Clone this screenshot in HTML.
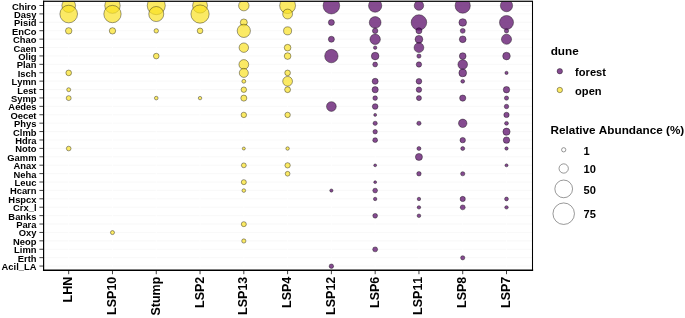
<!DOCTYPE html>
<html lang="en">
<head>
<meta charset="utf-8">
<title>Relative abundance bubble plot</title>
<style>
html,body{margin:0;padding:0;background:#fff;}
body{width:685px;height:318px;overflow:hidden;}
svg{display:block;}
svg text{font-family:"Liberation Sans",Arial,Helvetica,sans-serif;font-weight:bold;fill:#000;font-kerning:none;}
.yl{font-size:9.4px;text-anchor:end;}
.xl{font-size:12.5px;text-anchor:end;}
.lt{font-size:11.74px;}
.ll{font-size:11.1px;}
.y{fill:#FAE123;fill-opacity:.7;stroke:#000;stroke-opacity:.7;stroke-width:0.55;}
.p{fill:#5c0f6b;fill-opacity:.75;stroke:#000;stroke-opacity:.7;stroke-width:0.55;}
.k{fill:#fff;stroke:#444;stroke-width:.55;}
</style>
</head>
<body>
<svg width="685" height="318" viewBox="0 0 685 318">
<rect width="685" height="318" fill="#fff"/>
<defs><clipPath id="pc"><rect x="43.6" y="1.5" width="488.9" height="268.5"/></clipPath></defs>
<rect x="43" y="0" width="490" height="1" fill="#b4b4b4"/>
<g stroke="#f3f3f3" stroke-width=".55">
<line x1="43.6" x2="532.5" y1="5.50" y2="5.50"/>
<line x1="43.6" x2="532.5" y1="13.90" y2="13.90"/>
<line x1="43.6" x2="532.5" y1="22.31" y2="22.31"/>
<line x1="43.6" x2="532.5" y1="30.71" y2="30.71"/>
<line x1="43.6" x2="532.5" y1="39.12" y2="39.12"/>
<line x1="43.6" x2="532.5" y1="47.52" y2="47.52"/>
<line x1="43.6" x2="532.5" y1="55.93" y2="55.93"/>
<line x1="43.6" x2="532.5" y1="64.33" y2="64.33"/>
<line x1="43.6" x2="532.5" y1="72.74" y2="72.74"/>
<line x1="43.6" x2="532.5" y1="81.14" y2="81.14"/>
<line x1="43.6" x2="532.5" y1="89.55" y2="89.55"/>
<line x1="43.6" x2="532.5" y1="97.95" y2="97.95"/>
<line x1="43.6" x2="532.5" y1="106.36" y2="106.36"/>
<line x1="43.6" x2="532.5" y1="114.76" y2="114.76"/>
<line x1="43.6" x2="532.5" y1="123.17" y2="123.17"/>
<line x1="43.6" x2="532.5" y1="131.57" y2="131.57"/>
<line x1="43.6" x2="532.5" y1="139.98" y2="139.98"/>
<line x1="43.6" x2="532.5" y1="148.38" y2="148.38"/>
<line x1="43.6" x2="532.5" y1="156.79" y2="156.79"/>
<line x1="43.6" x2="532.5" y1="165.19" y2="165.19"/>
<line x1="43.6" x2="532.5" y1="173.60" y2="173.60"/>
<line x1="43.6" x2="532.5" y1="182.00" y2="182.00"/>
<line x1="43.6" x2="532.5" y1="190.41" y2="190.41"/>
<line x1="43.6" x2="532.5" y1="198.81" y2="198.81"/>
<line x1="43.6" x2="532.5" y1="207.22" y2="207.22"/>
<line x1="43.6" x2="532.5" y1="215.62" y2="215.62"/>
<line x1="43.6" x2="532.5" y1="224.03" y2="224.03"/>
<line x1="43.6" x2="532.5" y1="232.43" y2="232.43"/>
<line x1="43.6" x2="532.5" y1="240.84" y2="240.84"/>
<line x1="43.6" x2="532.5" y1="249.24" y2="249.24"/>
<line x1="43.6" x2="532.5" y1="257.65" y2="257.65"/>
<line x1="43.6" x2="532.5" y1="266.06" y2="266.06"/>
</g>
<g stroke="#fff" stroke-width=".8">
<line x1="68.70" x2="68.70" y1="1.5" y2="270.0"/>
<line x1="112.48" x2="112.48" y1="1.5" y2="270.0"/>
<line x1="156.26" x2="156.26" y1="1.5" y2="270.0"/>
<line x1="200.04" x2="200.04" y1="1.5" y2="270.0"/>
<line x1="243.82" x2="243.82" y1="1.5" y2="270.0"/>
<line x1="287.60" x2="287.60" y1="1.5" y2="270.0"/>
<line x1="331.38" x2="331.38" y1="1.5" y2="270.0"/>
<line x1="375.16" x2="375.16" y1="1.5" y2="270.0"/>
<line x1="418.94" x2="418.94" y1="1.5" y2="270.0"/>
<line x1="462.72" x2="462.72" y1="1.5" y2="270.0"/>
<line x1="506.50" x2="506.50" y1="1.5" y2="270.0"/>
</g>
<g clip-path="url(#pc)">
<circle class="y" cx="68.70" cy="5.65" r="6.82"/>
<circle class="y" cx="68.70" cy="14.05" r="8.82"/>
<circle class="y" cx="68.70" cy="30.86" r="3.23"/>
<circle class="y" cx="68.70" cy="72.89" r="2.83"/>
<circle class="y" cx="68.70" cy="89.70" r="1.98"/>
<circle class="y" cx="68.70" cy="98.11" r="2.48"/>
<circle class="y" cx="68.70" cy="148.53" r="2.33"/>
<circle class="y" cx="112.48" cy="5.65" r="7.72"/>
<circle class="y" cx="112.48" cy="14.05" r="8.67"/>
<circle class="y" cx="112.48" cy="30.86" r="3.18"/>
<circle class="y" cx="112.48" cy="232.58" r="2.02"/>
<circle class="y" cx="156.26" cy="5.65" r="9.03"/>
<circle class="y" cx="156.26" cy="14.05" r="7.52"/>
<circle class="y" cx="156.26" cy="30.86" r="2.23"/>
<circle class="y" cx="156.26" cy="56.08" r="2.83"/>
<circle class="y" cx="156.26" cy="98.11" r="1.83"/>
<circle class="y" cx="200.04" cy="5.65" r="7.42"/>
<circle class="y" cx="200.04" cy="14.05" r="9.12"/>
<circle class="y" cx="200.04" cy="30.86" r="2.83"/>
<circle class="y" cx="200.04" cy="98.11" r="1.73"/>
<circle class="y" cx="243.82" cy="5.65" r="5.22"/>
<circle class="y" cx="243.82" cy="22.46" r="3.52"/>
<circle class="y" cx="243.82" cy="30.86" r="6.62"/>
<circle class="y" cx="243.82" cy="47.67" r="4.72"/>
<circle class="y" cx="243.82" cy="64.48" r="4.88"/>
<circle class="y" cx="243.82" cy="72.89" r="4.52"/>
<circle class="y" cx="243.82" cy="81.30" r="1.93"/>
<circle class="y" cx="243.82" cy="89.70" r="2.73"/>
<circle class="y" cx="243.82" cy="98.11" r="3.02"/>
<circle class="y" cx="243.82" cy="114.91" r="2.73"/>
<circle class="y" cx="243.82" cy="148.53" r="1.52"/>
<circle class="y" cx="243.82" cy="165.34" r="2.43"/>
<circle class="y" cx="243.82" cy="182.16" r="2.52"/>
<circle class="y" cx="243.82" cy="190.56" r="1.83"/>
<circle class="y" cx="243.82" cy="224.18" r="2.52"/>
<circle class="y" cx="243.82" cy="240.99" r="2.12"/>
<circle class="y" cx="287.60" cy="5.65" r="7.92"/>
<circle class="y" cx="287.60" cy="14.05" r="4.92"/>
<circle class="y" cx="287.60" cy="30.86" r="4.02"/>
<circle class="y" cx="287.60" cy="47.67" r="3.33"/>
<circle class="y" cx="287.60" cy="56.08" r="3.33"/>
<circle class="y" cx="287.60" cy="72.89" r="2.83"/>
<circle class="y" cx="287.60" cy="81.30" r="4.88"/>
<circle class="y" cx="287.60" cy="89.70" r="2.93"/>
<circle class="y" cx="287.60" cy="114.91" r="2.73"/>
<circle class="y" cx="287.60" cy="148.53" r="1.73"/>
<circle class="y" cx="287.60" cy="165.34" r="2.68"/>
<circle class="y" cx="287.60" cy="173.75" r="2.38"/>
<circle class="p" cx="331.38" cy="5.65" r="8.32"/>
<circle class="p" cx="331.38" cy="22.46" r="3.02"/>
<circle class="p" cx="331.38" cy="39.27" r="3.02"/>
<circle class="p" cx="331.38" cy="56.08" r="6.72"/>
<circle class="p" cx="331.38" cy="106.51" r="4.88"/>
<circle class="p" cx="331.38" cy="190.56" r="1.62"/>
<circle class="p" cx="331.38" cy="266.20" r="2.23"/>
<circle class="p" cx="375.16" cy="5.65" r="6.62"/>
<circle class="p" cx="375.16" cy="22.46" r="5.88"/>
<circle class="p" cx="375.16" cy="30.86" r="2.73"/>
<circle class="p" cx="375.16" cy="39.27" r="5.22"/>
<circle class="p" cx="375.16" cy="47.67" r="1.73"/>
<circle class="p" cx="375.16" cy="56.08" r="3.82"/>
<circle class="p" cx="375.16" cy="64.48" r="2.43"/>
<circle class="p" cx="375.16" cy="81.30" r="3.02"/>
<circle class="p" cx="375.16" cy="89.70" r="3.12"/>
<circle class="p" cx="375.16" cy="98.11" r="2.33"/>
<circle class="p" cx="375.16" cy="106.51" r="2.83"/>
<circle class="p" cx="375.16" cy="114.91" r="1.48"/>
<circle class="p" cx="375.16" cy="123.32" r="2.12"/>
<circle class="p" cx="375.16" cy="131.72" r="2.23"/>
<circle class="p" cx="375.16" cy="140.13" r="2.43"/>
<circle class="p" cx="375.16" cy="165.34" r="1.42"/>
<circle class="p" cx="375.16" cy="182.16" r="1.42"/>
<circle class="p" cx="375.16" cy="190.56" r="2.38"/>
<circle class="p" cx="375.16" cy="198.97" r="1.73"/>
<circle class="p" cx="375.16" cy="215.77" r="2.38"/>
<circle class="p" cx="375.16" cy="249.39" r="2.48"/>
<circle class="p" cx="418.94" cy="5.65" r="4.72"/>
<circle class="p" cx="418.94" cy="22.46" r="7.78"/>
<circle class="p" cx="418.94" cy="30.86" r="3.02"/>
<circle class="p" cx="418.94" cy="39.27" r="3.88"/>
<circle class="p" cx="418.94" cy="47.67" r="4.88"/>
<circle class="p" cx="418.94" cy="56.08" r="2.12"/>
<circle class="p" cx="418.94" cy="64.48" r="2.68"/>
<circle class="p" cx="418.94" cy="81.30" r="2.83"/>
<circle class="p" cx="418.94" cy="89.70" r="2.73"/>
<circle class="p" cx="418.94" cy="98.11" r="2.52"/>
<circle class="p" cx="418.94" cy="123.32" r="2.12"/>
<circle class="p" cx="418.94" cy="148.53" r="1.98"/>
<circle class="p" cx="418.94" cy="156.94" r="3.52"/>
<circle class="p" cx="418.94" cy="173.75" r="2.23"/>
<circle class="p" cx="418.94" cy="198.97" r="1.73"/>
<circle class="p" cx="418.94" cy="207.37" r="1.73"/>
<circle class="p" cx="418.94" cy="215.77" r="1.83"/>
<circle class="p" cx="462.72" cy="5.65" r="7.62"/>
<circle class="p" cx="462.72" cy="22.46" r="3.82"/>
<circle class="p" cx="462.72" cy="30.86" r="2.48"/>
<circle class="p" cx="462.72" cy="39.27" r="3.38"/>
<circle class="p" cx="462.72" cy="56.08" r="3.38"/>
<circle class="p" cx="462.72" cy="64.48" r="4.82"/>
<circle class="p" cx="462.72" cy="72.89" r="3.88"/>
<circle class="p" cx="462.72" cy="81.30" r="1.88"/>
<circle class="p" cx="462.72" cy="98.11" r="3.12"/>
<circle class="p" cx="462.72" cy="123.32" r="4.22"/>
<circle class="p" cx="462.72" cy="140.13" r="2.73"/>
<circle class="p" cx="462.72" cy="148.53" r="1.98"/>
<circle class="p" cx="462.72" cy="173.75" r="2.12"/>
<circle class="p" cx="462.72" cy="198.97" r="2.62"/>
<circle class="p" cx="462.72" cy="207.37" r="2.48"/>
<circle class="p" cx="462.72" cy="257.80" r="2.12"/>
<circle class="p" cx="506.50" cy="5.65" r="6.12"/>
<circle class="p" cx="506.50" cy="22.46" r="7.02"/>
<circle class="p" cx="506.50" cy="30.86" r="2.18"/>
<circle class="p" cx="506.50" cy="39.27" r="5.07"/>
<circle class="p" cx="506.50" cy="56.08" r="3.82"/>
<circle class="p" cx="506.50" cy="72.89" r="1.62"/>
<circle class="p" cx="506.50" cy="89.70" r="3.23"/>
<circle class="p" cx="506.50" cy="98.11" r="2.12"/>
<circle class="p" cx="506.50" cy="106.51" r="2.23"/>
<circle class="p" cx="506.50" cy="114.91" r="2.68"/>
<circle class="p" cx="506.50" cy="123.32" r="1.93"/>
<circle class="p" cx="506.50" cy="131.72" r="3.62"/>
<circle class="p" cx="506.50" cy="140.13" r="3.23"/>
<circle class="p" cx="506.50" cy="148.53" r="1.67"/>
<circle class="p" cx="506.50" cy="165.34" r="1.52"/>
<circle class="p" cx="506.50" cy="198.97" r="1.93"/>
<circle class="p" cx="506.50" cy="207.37" r="1.73"/>
</g>
<g stroke="#000" stroke-linecap="square">
<line x1="43.6" y1="1.45" x2="43.6" y2="270.25" stroke-width="1.2"/>
<line x1="43.6" y1="1.45" x2="532.5" y2="1.45" stroke-width=".95"/>
<line x1="532.5" y1="1.45" x2="532.5" y2="270.25" stroke-width="1.05"/>
<line x1="43.6" y1="270.25" x2="532.5" y2="270.25" stroke-width="1.3"/>
</g>
<g stroke="#000" stroke-width=".75">
<line x1="39.4" x2="43.6" y1="5.50" y2="5.50"/>
<line x1="39.4" x2="43.6" y1="13.90" y2="13.90"/>
<line x1="39.4" x2="43.6" y1="22.31" y2="22.31"/>
<line x1="39.4" x2="43.6" y1="30.71" y2="30.71"/>
<line x1="39.4" x2="43.6" y1="39.12" y2="39.12"/>
<line x1="39.4" x2="43.6" y1="47.52" y2="47.52"/>
<line x1="39.4" x2="43.6" y1="55.93" y2="55.93"/>
<line x1="39.4" x2="43.6" y1="64.33" y2="64.33"/>
<line x1="39.4" x2="43.6" y1="72.74" y2="72.74"/>
<line x1="39.4" x2="43.6" y1="81.14" y2="81.14"/>
<line x1="39.4" x2="43.6" y1="89.55" y2="89.55"/>
<line x1="39.4" x2="43.6" y1="97.95" y2="97.95"/>
<line x1="39.4" x2="43.6" y1="106.36" y2="106.36"/>
<line x1="39.4" x2="43.6" y1="114.76" y2="114.76"/>
<line x1="39.4" x2="43.6" y1="123.17" y2="123.17"/>
<line x1="39.4" x2="43.6" y1="131.57" y2="131.57"/>
<line x1="39.4" x2="43.6" y1="139.98" y2="139.98"/>
<line x1="39.4" x2="43.6" y1="148.38" y2="148.38"/>
<line x1="39.4" x2="43.6" y1="156.79" y2="156.79"/>
<line x1="39.4" x2="43.6" y1="165.19" y2="165.19"/>
<line x1="39.4" x2="43.6" y1="173.60" y2="173.60"/>
<line x1="39.4" x2="43.6" y1="182.00" y2="182.00"/>
<line x1="39.4" x2="43.6" y1="190.41" y2="190.41"/>
<line x1="39.4" x2="43.6" y1="198.81" y2="198.81"/>
<line x1="39.4" x2="43.6" y1="207.22" y2="207.22"/>
<line x1="39.4" x2="43.6" y1="215.62" y2="215.62"/>
<line x1="39.4" x2="43.6" y1="224.03" y2="224.03"/>
<line x1="39.4" x2="43.6" y1="232.43" y2="232.43"/>
<line x1="39.4" x2="43.6" y1="240.84" y2="240.84"/>
<line x1="39.4" x2="43.6" y1="249.24" y2="249.24"/>
<line x1="39.4" x2="43.6" y1="257.65" y2="257.65"/>
<line x1="39.4" x2="43.6" y1="266.06" y2="266.06"/>
<line x1="68.70" x2="68.70" y1="270.0" y2="274.2"/>
<line x1="112.48" x2="112.48" y1="270.0" y2="274.2"/>
<line x1="156.26" x2="156.26" y1="270.0" y2="274.2"/>
<line x1="200.04" x2="200.04" y1="270.0" y2="274.2"/>
<line x1="243.82" x2="243.82" y1="270.0" y2="274.2"/>
<line x1="287.60" x2="287.60" y1="270.0" y2="274.2"/>
<line x1="331.38" x2="331.38" y1="270.0" y2="274.2"/>
<line x1="375.16" x2="375.16" y1="270.0" y2="274.2"/>
<line x1="418.94" x2="418.94" y1="270.0" y2="274.2"/>
<line x1="462.72" x2="462.72" y1="270.0" y2="274.2"/>
<line x1="506.50" x2="506.50" y1="270.0" y2="274.2"/>
</g>
<text class="yl" x="36.5" y="9.50">Chiro</text>
<text class="yl" x="36.5" y="17.91">Dasy</text>
<text class="yl" x="36.5" y="26.31">Pisid</text>
<text class="yl" x="36.5" y="34.71">EnCo</text>
<text class="yl" x="36.5" y="43.12">Chao</text>
<text class="yl" x="36.5" y="51.52">Caen</text>
<text class="yl" x="36.5" y="59.93">Olig</text>
<text class="yl" x="36.5" y="68.33">Plan</text>
<text class="yl" x="36.5" y="76.74">Isch</text>
<text class="yl" x="36.5" y="85.14">Lymn</text>
<text class="yl" x="36.5" y="93.55">Lest</text>
<text class="yl" x="36.5" y="101.95">Symp</text>
<text class="yl" x="36.5" y="110.36">Aedes</text>
<text class="yl" x="36.5" y="118.76">Oecet</text>
<text class="yl" x="36.5" y="127.17">Phys</text>
<text class="yl" x="36.5" y="135.57">Clmb</text>
<text class="yl" x="36.5" y="143.98">Hdra</text>
<text class="yl" x="36.5" y="152.38">Noto</text>
<text class="yl" x="36.5" y="160.79">Gamm</text>
<text class="yl" x="36.5" y="169.19">Anax</text>
<text class="yl" x="36.5" y="177.60">Neha</text>
<text class="yl" x="36.5" y="186.00">Leuc</text>
<text class="yl" x="36.5" y="194.41">Hcarn</text>
<text class="yl" x="36.5" y="202.81">Hspcx</text>
<text class="yl" x="36.5" y="211.22">Crx_l</text>
<text class="yl" x="36.5" y="219.62">Banks</text>
<text class="yl" x="36.5" y="228.03">Para</text>
<text class="yl" x="36.5" y="236.43">Oxy</text>
<text class="yl" x="36.5" y="244.84">Neop</text>
<text class="yl" x="36.5" y="253.24">Limn</text>
<text class="yl" x="36.5" y="261.65">Erth</text>
<text class="yl" x="36.5" y="270.06">Acil_LA</text>
<text class="xl" transform="translate(72.20,276.7) rotate(-90)">LHN</text>
<text class="xl" transform="translate(115.98,276.7) rotate(-90)">LSP10</text>
<text class="xl" transform="translate(159.76,276.7) rotate(-90)">Stump</text>
<text class="xl" transform="translate(203.54,276.7) rotate(-90)">LSP2</text>
<text class="xl" transform="translate(247.32,276.7) rotate(-90)">LSP13</text>
<text class="xl" transform="translate(291.10,276.7) rotate(-90)">LSP4</text>
<text class="xl" transform="translate(334.88,276.7) rotate(-90)">LSP12</text>
<text class="xl" transform="translate(378.66,276.7) rotate(-90)">LSP6</text>
<text class="xl" transform="translate(422.44,276.7) rotate(-90)">LSP11</text>
<text class="xl" transform="translate(466.22,276.7) rotate(-90)">LSP8</text>
<text class="xl" transform="translate(510.00,276.7) rotate(-90)">LSP7</text>
<text class="lt" x="550.7" y="54.6">dune</text>
<circle class="p" cx="559.8" cy="71.2" r="2.7"/>
<circle class="y" cx="559.8" cy="90.0" r="2.7"/>
<text class="ll" x="575.1" y="75.8">forest</text>
<text class="ll" x="575.1" y="94.5">open</text>
<text class="lt" x="550.6" y="133.9">Relative Abundance (%)</text>
<circle class="k" cx="563.7" cy="149.8" r="2.15"/>
<text class="ll" x="583.5" y="154.8">1</text>
<circle class="k" cx="563.7" cy="168.5" r="4.65"/>
<text class="ll" x="583.5" y="173.1">10</text>
<circle class="k" cx="563.7" cy="188.9" r="8.85"/>
<text class="ll" x="583.5" y="193.6">50</text>
<circle class="k" cx="563.7" cy="213.7" r="10.75"/>
<text class="ll" x="583.5" y="218.3">75</text>
</svg>
</body>
</html>
